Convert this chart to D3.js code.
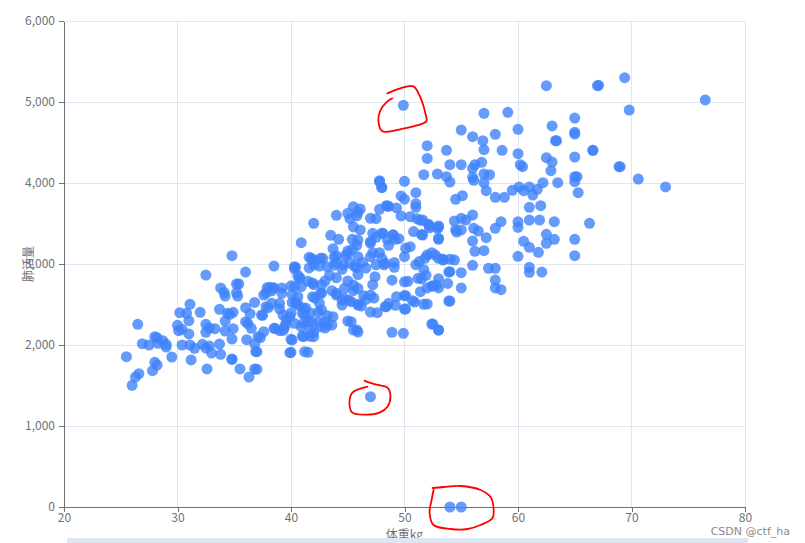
<!DOCTYPE html>
<html>
<head>
<meta charset="utf-8">
<script src="https://cdn.jsdelivr.net/npm/d3@7"></script>
<style>
  html, body { margin: 0; padding: 0; background: #fff; }
  svg { display: block; font-family: "Noto Sans CJK SC", "Noto Sans", sans-serif; }
</style>
</head>
<body>
<svg id="chart" width="805" height="543"></svg>
<script>
// ---- data ----
const xName = "体重kg";
const yName = "肺活量";
const xTicks = [20, 30, 40, 50, 60, 70, 80];
const yTicks = [0, 1000, 2000, 3000, 4000, 5000, 6000];
const watermark = "CSDN @ctf_ha";

// [体重kg, 肺活量]
const samples = [
  [25.5,1856],[26.5,2255],[26.0,1502],[26.3,1605],[26.6,1646],[26.9,2016],[27.5,2000],[27.8,1683],[28.0,1786],[28.2,1753],
  [28.0,2103],[28.2,2090],[28.3,2021],[28.7,2053],[29.0,2008],[29.0,1975],[29.5,1852],[30.0,2243],[30.2,2399],[30.1,2177],
  [30.4,2193],[30.4,2000],[30.8,2391],[31.0,2300],[31.1,2502],[31.0,2136],[31.1,2000],[31.2,1815],[31.5,1959],[32.0,2403],
  [32.2,2008],[32.5,2864],[32.5,2255],[32.5,2157],[32.6,1704],[32.5,1963],[32.8,2210],[32.8,1988],[33.0,1901],[33.3,2201],
  [33.8,2704],[33.7,2440],[33.7,2012],[33.8,1885],[34.1,2650],[34.2,2605],[34.2,2296],[34.2,2173],[34.4,2391],[34.6,2378],
  [34.8,2074],[34.9,2201],[34.9,2403],[34.8,1827],[34.8,1822],[35.2,2753],[35.2,2646],[35.3,2605],[35.4,2753],[35.5,1704],
  [36.0,2901],[36.0,2461],[36.0,2288],[36.1,2066],[36.2,2263],[36.3,1605],[36.4,2387],[36.5,2206],[36.8,2012],[36.8,1704],
  [37.0,1918],[36.8,2526],[37.3,2090],[37.5,2366],[37.6,2165],[37.8,2473],[37.8,2642],[38.0,2461],[38.1,2712],[38.3,2667],
  [38.5,2975],[38.5,2206],[38.5,2704],[39.0,2177],[39.0,2514],[39.0,2444],[39.2,2704],[39.3,2370],[39.4,2210],[39.6,2312],
  [39.9,2350],[39.9,1905],[40.0,2070],[40.3,2967],[40.3,2943],[40.1,2621],[40.1,2526],[40.3,2720],[40.5,2518],[40.6,2860],
  [40.7,2485],[40.8,2828],[40.9,2226],[41.0,2391],[41.0,2111],[41.1,2452],[41.2,1918],[41.2,2370],[41.5,2288],[41.5,2786],
  [41.6,2951],[41.7,2185],[41.7,2107],[41.9,2766],[42.1,2580],[42.4,2407],[42.4,2284],[42.6,2226],[42.5,2518],[42.7,2642],
  [42.7,2745],[43.2,2362],[43.2,2247],[43.4,2860],[43.6,2671],[44.0,2617],[44.5,2494],[44.7,2576],[44.7,2700],[45.0,2296],
  [45.1,2551],[45.5,2185],[45.5,2671],[45.9,2494],[46.4,2609],[46.6,2563],[47.0,2407],[47.2,2745],[47.0,1362],[48.3,2473],
  [48.6,2514],[48.9,2157],
  [34.8,3103],[40.9,3263],[42.0,3502],[43.5,3354],[43.7,3189],[44.2,3305],[44.0,3601],[45.0,3626],[45.2,3560],[45.5,3708],
  [45.9,3638],[45.5,3457],[45.4,3305],[45.9,3296],[47.0,3564],[47.8,4016],[48.0,3946],[48.5,3716],[48.1,3379],
  [47.2,3379],[47.5,3330],[47.0,3259],[48.5,3300],[48.6,3230],[49.0,3358],[49.2,3305],[47.2,3140],[47.8,3140],[45.4,3181],
  [45.8,3230],[45.0,3160],[44.8,3103],[44.0,3103],[42.6,3070],[42.0,3050],[41.8,3070],[42.0,2988],[44.0,3020],[44.6,2990],
  [45.2,3010],[45.6,2970],[46.3,3020],[46.6,2950],[47.5,2990],[48.2,2990],[49.1,3020],[49.1,2960],
  [45.0,3123],[41.6,3083],[42.8,3070],[43.8,3083],[40.4,2959],[42.5,2975],[43.2,2965],[43.8,2985],[44.5,2935],
  [45.8,2955],[37.9,2708],[38.4,2708],[40.0,2730],[40.7,2823],[40.9,2720],[42.0,2745],[43.0,2790],[44.0,2830],[45.0,2790],
  [45.5,2740],
  [37.6,2617],[38.3,2515],[37.4,2370],[38.6,2206],[39.3,2180],[39.5,2247],[40.3,2267],[40.1,2062],[40.0,1910],[41.5,1910],
  [41.1,2103],[42.0,2103],[42.0,2160],[41.1,2267],[41.8,2288],[43.0,2288],[43.6,2247],[43.0,2210],[45.3,2288],[45.8,2185],
  [37.1,2103],[36.9,1918],[37.0,1700],[40.4,2515],[41.3,2456],[41.7,2395],[40.0,2395],[42.7,2432],[43.7,2350],[40.6,2597],
  [41.9,2597],[42.6,2638],[44.0,2638],[44.5,2556],[45.3,2535],[39.2,2638],
  [47.8,4029],[48.0,3942],[49.7,3840],[51.0,3745],[51.0,3700],[48.4,3720],[47.8,3675],[48.6,3712],[49.3,3692],[46.1,3679],
  [45.8,3593],[47.5,3560],[49.7,3593],[50.5,3584],[51.1,3560],[51.4,3539],[52.1,3490],[53.0,3469],[54.4,3531],
  [46.1,3420],[47.0,3275],[48.0,3380],[49.0,3360],[49.5,3313],[50.1,3193],[50.8,3400],[51.5,3364],[52.2,3447],[53.0,3318],
  [52.9,3440],[54.6,3395],[45.9,3090],[47.0,3090],[48.0,3070],[48.3,3010],[50.0,3090],[51.3,3030],[51.8,3070],[52.4,3140],
  [53.0,3070],[54.0,3060],[54.0,2905],[45.9,2870],[47.4,2843],[48.9,2800],[50.0,2780],[51.2,2823],[51.9,2860],[52.4,2728],
  [52.8,2740],[53.8,2760],[45.9,2700],[47.0,2617],[47.3,2580],[49.3,2597],[50.0,2610],[50.9,2530],[45.9,2502],[46.2,2480],
  [48.4,2473],[49.2,2490],[50.0,2444],[51.7,2502],[54.0,2543],[47.6,2399],[52.4,2259],[53.0,2185],[49.9,2144],[45.9,2160],
  [49.9,4959],[62.5,5201],[67.0,5201],[67.1,5206],[69.4,5300],[76.5,5025],[69.8,4901],[57.0,4860],[59.1,4872],[55.0,4654],
  [56.0,4572],[56.9,4523],[58.0,4601],[60.0,4663],[65.0,4802],[63.0,4704],[65.0,4626],[65.0,4605],[63.3,4523],[52.0,4461],
  [52.0,4304],[53.7,4403],[57.0,4411],[58.6,4403],[60.0,4362],[66.6,4403],[65.0,4321],[62.5,4313],[63.0,4259],[62.9,4152],
  [54.0,4226],[55.0,4226],[56.0,4181],[56.2,4226],[56.8,4255],[51.7,4103],[52.9,4111],[53.7,4078],[54.0,4012],[56.0,4070],
  [57.0,4111],[57.5,4103],[56.1,4033],[57.0,4004],[60.2,4226],[60.4,4201],[50.0,4021],[65.0,4078],[65.0,4016],[63.5,4004],
  [62.2,4004],[68.9,4202],[70.6,4049],[73.0,3951],[65.3,3881],[57.2,3905],[58.0,3823],[58.8,3823],[59.5,3910],[60.1,3951],
  [60.5,3905],[61.0,3951],[61.3,3852],[61.7,3922],[54.5,3798],[55.1,3844],[51.0,3881],[50.0,3800],[61.0,3700],[62.0,3720],
  [66.3,3502],[60.0,3522],[60.0,3453],[61.0,3543],[61.9,3543],[63.2,3522],[65.0,3305],[65.0,3103],[62.5,3366],[63.2,3305],
  [62.5,3256],[60.5,3280],[61.0,3206],[61.8,3144],[60.0,3095],[58.0,3440],[58.5,3522],[57.2,3325],[56.5,3407],[56.1,3440],
  [56.0,3605],[55.4,3543],[55.0,3564],[54.5,3420],[55.0,3420],[53.0,3453],[52.2,3477],[51.6,3543],[51.6,3358],[53.0,3305],
  [56.0,3284],[56.2,3157],[57.0,3165],[57.4,2947],[56.0,2984],[54.4,3049],[53.4,3049],[52.7,3111],[52.0,3111],[51.0,2992],
  [55.0,2893],[50.5,3214],[54.0,0],[55.0,0],[52.5,2259],[53.0,2185],[52.0,2506],[53.9,2543],[50.1,2444],
  [55.0,2704],[53.9,2901],[58.0,2947],[58.0,2802],[58.0,2704],[58.5,2683],[61.0,2959],[61.0,2897],[62.1,2901],[53.0,2819],
  [53.0,2704],[52.5,2728],[52.0,2704],[51.5,2815],[50.7,2547],[50.1,2609],[51.4,2658],[50.3,2786],[51.7,2930],[53.4,3058],
  [63.4,4523],[66.6,4404],[69.0,4202],[65.2,4078]
];

// outliers circled in red by hand in the reference: [x, y] anchor in data units
const circledGroups = [[49.9, 4959], [47.0, 1362], [54.5, 0]];

// ---- layout ----
const svg = d3.select("#chart");
const x = d3.scaleLinear().domain([20, 80]).range([64, 745]);
const y = d3.scaleLinear().domain([0, 6000]).range([507, 21]);
const axisColor = "#6e7079";
const gridColor = "#e0e6f1";

// grid
svg.append("g").selectAll("line").data(xTicks.slice(1)).join("line")
  .attr("x1", d => x(d)).attr("x2", d => x(d))
  .attr("y1", y(0)).attr("y2", y(6000))
  .attr("stroke", gridColor).attr("stroke-width", 1).attr("shape-rendering", "crispEdges");
svg.append("g").selectAll("line").data(yTicks.slice(1)).join("line")
  .attr("x1", x(20)).attr("x2", x(80))
  .attr("y1", d => y(d)).attr("y2", d => y(d))
  .attr("stroke", gridColor).attr("stroke-width", 1).attr("shape-rendering", "crispEdges");

// axes
const yAxis = svg.append("g").attr("transform", `translate(${x(20)},0)`)
  .call(d3.axisLeft(y).tickValues(yTicks).tickFormat(d3.format(",")).tickSizeInner(5).tickSizeOuter(0).tickPadding(4));
const xAxis = svg.append("g").attr("transform", `translate(0,${y(0)})`)
  .call(d3.axisBottom(x).tickValues(xTicks).tickFormat(d3.format("d")).tickSizeInner(5).tickSizeOuter(0).tickPadding(1));
[xAxis, yAxis].forEach(g => {
  g.selectAll("path.domain").attr("stroke", axisColor).attr("shape-rendering", "crispEdges");
  g.selectAll(".tick line").attr("stroke", axisColor).attr("shape-rendering", "crispEdges");
  g.selectAll(".tick text").attr("fill", axisColor).style("font-size", "12px")
    .style("font-family", '"Noto Sans CJK SC", "Noto Sans", sans-serif');
});

// axis names
svg.append("text").text(yName)
  .attr("transform", `translate(27,${(y(0) + y(6000)) / 2}) rotate(-90)`)
  .attr("text-anchor", "middle").attr("dominant-baseline", "central")
  .attr("fill", axisColor).style("font-size", "12px");
svg.append("text").text(xName)
  .attr("x", (x(20) + x(80)) / 2).attr("y", 533)
  .attr("text-anchor", "middle").attr("dominant-baseline", "central")
  .attr("fill", axisColor).style("font-size", "12px");

// points
svg.append("g").selectAll("circle").data(samples).join("circle")
  .attr("cx", d => x(d[0])).attr("cy", d => y(d[1])).attr("r", 5.5)
  .attr("fill", "#3f82fb").attr("fill-opacity", 0.8);

// hand-drawn red marks around outliers (offsets in px from anchor)
const marks = [
  [[-16,-12],[-3,-17],[10,-19],[17,-8],[22,8],[23,16],[10,21],[-3,24],[-13,26],[-21,26],[-25,15],[-23,5],[-17,-3],[-11,-7]],
  [[-6,-16],[-1,-14],[6,-12],[17,-9],[20,0],[17,10],[9,16],[-4,18],[-18,16],[-21,6],[-18,-4],[-3,-10]],
  [[-23,-19],[-12,-20],[5,-21],[25,-17],[35,-10],[38,1],[37,11],[25,18],[12,22],[-5,22],[-22,18],[-26,6],[-24,-7],[-22,-17]]
];
const line = d3.line().curve(d3.curveCatmullRom.alpha(0.5));
circledGroups.forEach((g, i) => {
  const cx = x(g[0]), cy = y(g[1]);
  svg.append("path")
    .attr("d", line(marks[i].map(p => [cx + p[0], cy + p[1]])))
    .attr("fill", "none").attr("stroke", "#ff0000").attr("stroke-width", 1.8)
    .attr("stroke-linecap", "round").attr("stroke-linejoin", "round");
});

// slider strip at bottom
svg.append("rect").attr("x", 67).attr("y", 538).attr("width", 681).attr("height", 10)
  .attr("fill", "#dfe6f2");

// watermark
svg.append("text").text(watermark)
  .attr("x", 790).attr("y", 531).attr("text-anchor", "end").attr("dominant-baseline", "central")
  .attr("fill", "#8c8c8c").style("font-size", "11px")
  .style("font-family", '"DejaVu Sans", sans-serif');
</script>
</body>
</html>
